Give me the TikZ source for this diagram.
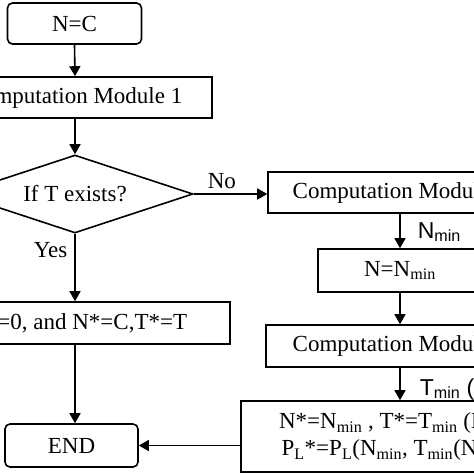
\documentclass[tikz,border=0pt]{standalone}
\usepackage{fontspec}
\setmainfont{Liberation Serif}
\newfontfamily\labelfont{Liberation Sans}
\usetikzlibrary{shapes.geometric, arrows.meta}

\begin{document}
\begin{tikzpicture}[x=1pt, y=-1pt, line width=1.6pt,
  box/.style={draw, rectangle, inner sep=0pt, minimum height=41pt, align=center, font=\fontsize{23}{27}\selectfont},
  term/.style={box, rounded corners=5pt},
  decision/.style={draw, diamond, aspect=3, inner sep=0pt, minimum width=236pt, minimum height=78pt, font=\fontsize{23}{27}\selectfont},
  arr/.style={-{Triangle[length=10pt,width=11pt]}},
  lbl/.style={inner sep=0pt, anchor=base west, font=\fontsize{23}{27}\selectfont},
  sanslbl/.style={lbl, font=\labelfont\fontsize{23}{27}\selectfont}]
\useasboundingbox (0,0) rectangle (474,474);
\clip (0,0) rectangle (474,474);

% left column
\node[term, minimum width=134pt] (start) at (74.5,23.5) {N=C};
\node[box, minimum width=274pt] (cm1) at (75,97.5) {Computation Module 1};
\node[decision] (ifT) at (75,194) {If T exists?};
\node[box, minimum width=310pt, minimum height=42pt] (zero) at (75,323) {P\textsubscript{L}*=0, and N*=C,T*=T};
\node[term, minimum width=133pt, minimum height=43pt] (stop) at (71.5,445.5) {END};

% right column
\node[box, minimum width=264pt] (cm2) at (400,192.5) {Computation Module 2};
\node[box, minimum width=164pt, minimum height=43pt] (nset) at (400,270.5) {N=N\textsubscript{min}};
\node[box, minimum width=268pt, minimum height=42pt] (cm3) at (400,346) {Computation Module 3};
\node[box, minimum width=318pt, minimum height=71pt] (opt) at (400,436.5) {N*=N\textsubscript{min} , T*=T\textsubscript{min} (N\textsubscript{min})\\P\textsubscript{L}*=P\textsubscript{L}(N\textsubscript{min}, T\textsubscript{min}(N\textsubscript{min}))};

% labels
\node[lbl] (no) at (207,188) {No};
\node[lbl] (yes) at (33,257) {Yes};
\node[sanslbl] (nminlbl) at (417,238) {N\textsubscript{min}};
\node[sanslbl] (tminlbl) at (419,395) {T\textsubscript{min} (N\textsubscript{min})};

% connectors
\draw[arr] (start.south) -- (cm1.north);
\draw[arr] (cm1) -- (ifT);
\draw[arr] (ifT.east) -- (ifT.east -| cm2.west);
\draw[arr] (ifT) -- (zero);
\draw[arr] (zero.south) -- (zero.south |- stop.north);
\draw[arr] (cm2) -- (nset);
\draw[arr] (nset) -- (cm3);
\draw[arr] (cm3) -- (opt);
\draw[arr] (stop.east -| opt.west) -- (stop.east);
\end{tikzpicture}
\end{document}
